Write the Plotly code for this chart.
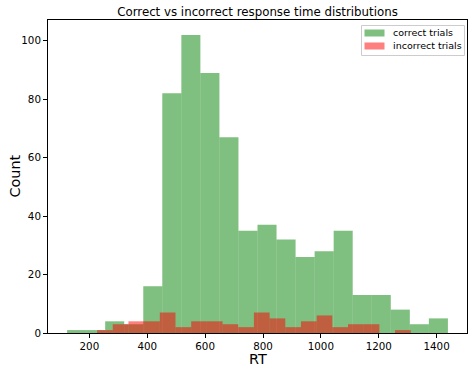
import numpy as np
import plotly.graph_objects as go

# Correct trials histogram (20 equal bins)
correct_bin_start = 123.0
correct_bin_width = 65.8
correct_counts = [1, 1, 4, 3, 16, 82, 102, 89, 67, 35, 37, 32, 26, 28, 35, 13, 13, 8, 3, 5]

# Incorrect trials histogram (20 equal bins)
incorrect_bin_start = 226.6
incorrect_bin_width = 54.2
incorrect_counts = [1, 3, 4, 4, 7, 2, 4, 4, 3, 2, 7, 5, 2, 4, 6, 2, 3, 3, 0, 1]

series_names = ["correct trials", "incorrect trials"]
series_colors = ["rgba(0,128,0,0.5)", "rgba(255,0,0,0.5)"]

x_ticks = [200, 400, 600, 800, 1000, 1200, 1400]
y_ticks = [0, 20, 40, 60, 80, 100]


def centers(start, width, n):
    return start + width * (np.arange(n) + 0.5)


fig = go.Figure()
fig.add_trace(go.Bar(
    x=centers(correct_bin_start, correct_bin_width, len(correct_counts)),
    y=correct_counts,
    width=correct_bin_width,
    name=series_names[0],
    marker=dict(color=series_colors[0], line=dict(width=0)),
))
fig.add_trace(go.Bar(
    x=centers(incorrect_bin_start, incorrect_bin_width, len(incorrect_counts)),
    y=incorrect_counts,
    width=incorrect_bin_width,
    name=series_names[1],
    marker=dict(color=series_colors[1], line=dict(width=0)),
))

font_family = "DejaVu Sans"
W, H = 474, 372
L, R, T, B = 48, 7, 20, 39
plot_w = W - L - R
plot_h = H - T - B


def px(x):
    return (x - L) / plot_w


def py(y):
    return (H - B - y) / plot_h


shapes = [
    # legend frame
    dict(type="rect", xref="paper", yref="paper",
         x0=px(361.5), x1=px(464.5), y0=py(55.5), y1=py(25.5),
         line=dict(color="#cccccc", width=1), fillcolor="rgba(255,255,255,0.8)",
         layer="above"),
]
annotations = []
row_y = [33.0, 46.0]
for name, color, ry in zip(series_names, series_colors, row_y):
    shapes.append(dict(type="rect", xref="paper", yref="paper",
                       x0=px(364.5), x1=px(384.5), y0=py(ry + 3.5), y1=py(ry - 3.5),
                       line=dict(width=0), fillcolor=color, layer="above"))
    annotations.append(dict(text=name, xref="paper", yref="paper",
                            x=px(390.5), y=py(ry), xanchor="left", yanchor="middle",
                            showarrow=False,
                            font=dict(size=9.5, family=font_family, color="black")))

annotations += [
    dict(text="RT", xref="paper", yref="paper", x=0.5, y=py(359),
         xanchor="center", yanchor="middle", showarrow=False,
         font=dict(size=14.4, family=font_family, color="black")),
    dict(text="Count", xref="paper", yref="paper", x=px(14), y=0.5,
         xanchor="center", yanchor="middle", showarrow=False, textangle=-90,
         font=dict(size=14.4, family=font_family, color="black")),
]

fig.update_layout(
    width=W, height=H,
    barmode="overlay",
    showlegend=False,
    paper_bgcolor="white", plot_bgcolor="white",
    margin=dict(l=L, r=R, t=T, b=B, autoexpand=False),
    font=dict(family=font_family, size=10, color="black"),
    title=dict(text="Correct vs incorrect response time distributions",
               x=0.5, xref="paper", xanchor="center",
               y=1 - 11.5 / H, yref="container", yanchor="middle",
               font=dict(size=11.8, family=font_family, color="black")),
    xaxis=dict(range=[57, 1505], tickvals=x_ticks, showgrid=False, zeroline=False,
               showline=True, linecolor="black", linewidth=1, mirror=True,
               ticks="outside", ticklen=4, tickcolor="black", tickwidth=1,
               tickfont=dict(size=10.3), automargin=False),
    yaxis=dict(range=[0, 107.1], tickvals=y_ticks, showgrid=False, zeroline=False,
               showline=True, linecolor="black", linewidth=1, mirror=True,
               ticks="outside", ticklen=4, tickcolor="black", tickwidth=1,
               tickfont=dict(size=10.3), automargin=False),
    shapes=shapes,
    annotations=annotations,
)

fig.write_html("out.html", config={"displayModeBar": False},
               post_script="document.body.style.margin='0px';")
